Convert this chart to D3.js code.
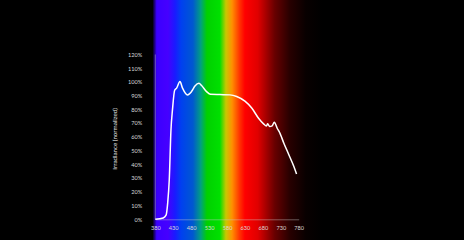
<!DOCTYPE html>
<html><head><meta charset="utf-8">
<script src="https://cdn.jsdelivr.net/npm/d3@7"></script>
<style>html,body{margin:0;padding:0;background:#000;}svg{display:block;}</style>
</head><body>
<script>
const wavelengths = [380,402,410,414.6,419,423.7,428,434,439.5,448.8,456,470,481,490.6,501.8,509,523,534,560,588,607,630,649,668,682,690,693.5,699,706,712,720,725.6,738.6,752.5,766.5,774];
const irradiance = [0,1,3,12,29,65,80,94,95.5,100.3,95.5,90.6,93,97,99,97.4,93,91,90.8,90.6,89.4,86,81,73.6,69.5,68,69.5,67.5,68,70.7,66.3,63.9,55.4,47,38.4,33];
const xTicks = [380,430,480,530,580,630,680,730,780];
const yTicks = [0,10,20,30,40,50,60,70,80,90,100,110,120];
const spectrumNm = [372,384,415,435,452,485,507,524,560,577,594,616,630,666,713,755,800,845];
const spectrumColors = ["#000000","#3a00ff","#4600ff","#1a1aff","#0040f0","#0058d0","#00a080","#00d000","#00e000","#c8c800","#ff9000","#ff3000","#ff0000","#e00000","#680000","#280000","#080000","#000000"];

const W=464,H=240;
const svg=d3.select("body").append("svg").attr("width",W).attr("height",H);
svg.append("rect").attr("width",W).attr("height",H).attr("fill","#000");

const x=d3.scaleLinear().domain([380,780]).range([155.3,298.7]);
const y=d3.scaleLinear().domain([0,120]).range([219.3,54.5]);

const defs=svg.append("defs");
const g0=x(spectrumNm[0]), g1=x(spectrumNm[spectrumNm.length-1]);
const grad=defs.append("linearGradient").attr("id","spec").attr("gradientUnits","userSpaceOnUse")
  .attr("x1",g0).attr("x2",g1).attr("y1",0).attr("y2",0);
spectrumNm.forEach((nm,i)=>{
  grad.append("stop").attr("offset",(x(nm)-g0)/(g1-g0)).attr("stop-color",spectrumColors[i]);
});
svg.append("rect").attr("x",g0).attr("y",0).attr("width",g1-g0).attr("height",H).attr("fill","url(#spec)");

const font="Lato, 'Open Sans', sans-serif";
const xAxis=svg.append("g").attr("transform",`translate(0,${y(0)})`)
  .call(d3.axisBottom(x).tickValues(xTicks).tickSize(0).tickPadding(7));
const yAxis=svg.append("g").attr("transform",`translate(${x(380)},0)`)
  .call(d3.axisLeft(y).tickValues(yTicks).tickSize(0).tickPadding(13).tickFormat(d=>d+"%"));
[xAxis,yAxis].forEach(a=>{
  a.select(".domain").attr("stroke","rgba(200,200,200,0.55)").attr("stroke-width",0.8);
  a.selectAll("text").attr("fill","#d8d8d8").attr("font-size","5.6px").attr("font-family",font);
});
yAxis.select(".domain").attr("d",`M0,${y(0)}V${y(120)}`);

svg.append("text").attr("transform",`translate(117,${(y(0)+y(120))/2+2}) rotate(-90)`)
  .attr("text-anchor","middle").attr("fill","#e8e8e8").attr("font-size","6.2px").attr("font-family",font)
  .text("Irradiance (normalized)");

const line=d3.line().x((d,i)=>x(wavelengths[i])).y(d=>y(d)).curve(d3.curveMonotoneX);
svg.append("path").datum(irradiance).attr("d",line).attr("fill","none")
  .attr("stroke","#fff").attr("stroke-width",1.5).attr("stroke-linejoin","round");
</script>
</body></html>
